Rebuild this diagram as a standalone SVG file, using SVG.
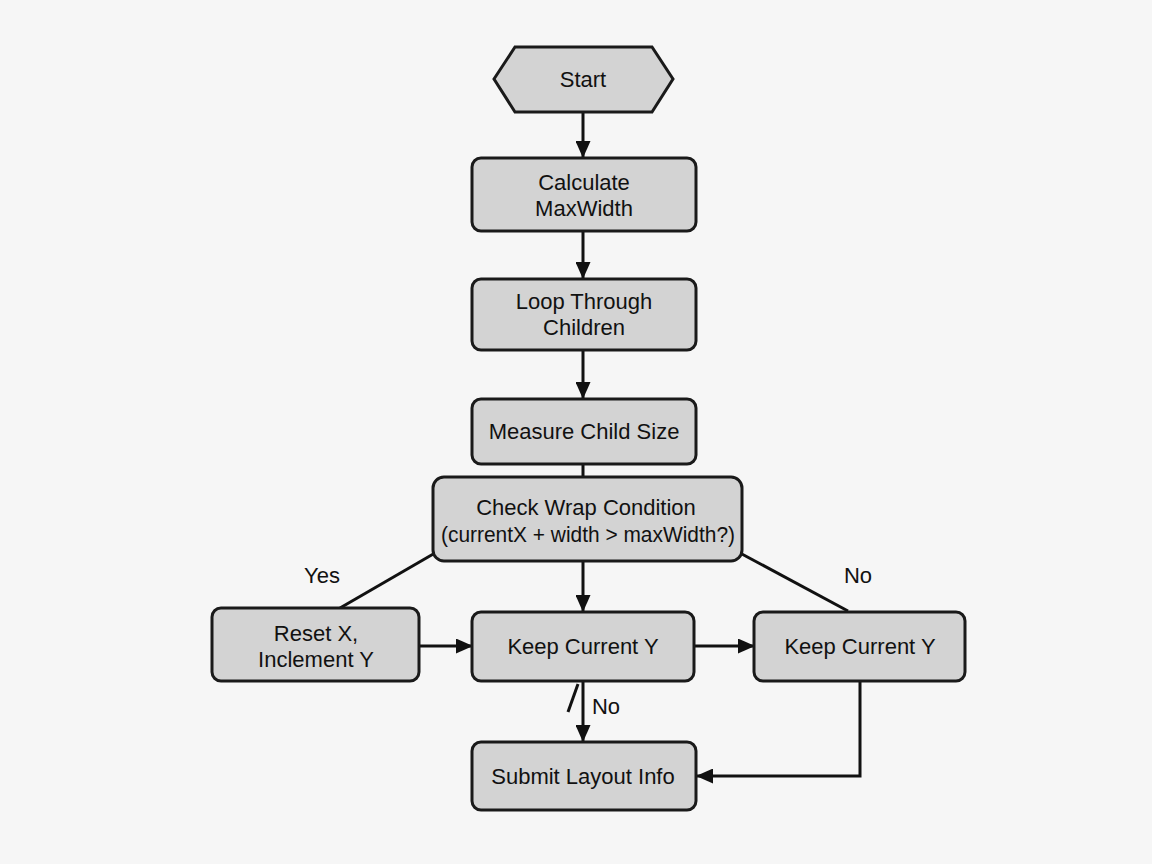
<svg xmlns="http://www.w3.org/2000/svg" width="1152" height="864" viewBox="0 0 1152 864">
<style>
.box{fill:#d3d3d3;stroke:#1a1a1a;stroke-width:3}
.t{font-family:"Liberation Sans",Arial,sans-serif;font-size:22px;fill:#111;text-anchor:middle;dominant-baseline:central}
.c{fill:none;stroke:#111;stroke-width:3}
</style>
<defs>
<marker id="ah" markerWidth="17" markerHeight="15" refX="16" refY="7.5" orient="auto" markerUnits="userSpaceOnUse">
<path d="M0,0 L17,7.5 L0,15 Z" fill="#111"/>
</marker>
</defs>
<rect width="1152" height="864" fill="#f6f6f6"/>
<g id="connectors">
<line class="c" x1="583" y1="112" x2="583" y2="157" marker-end="url(#ah)"/>
<line class="c" x1="583" y1="231" x2="583" y2="278" marker-end="url(#ah)"/>
<line class="c" x1="583" y1="350" x2="583" y2="398" marker-end="url(#ah)"/>
<line class="c" x1="583" y1="464" x2="583" y2="477"/>
<line class="c" x1="583" y1="561" x2="583" y2="611" marker-end="url(#ah)"/>
<line class="c" x1="435" y1="553" x2="340" y2="608"/>
<line class="c" x1="740" y1="553" x2="848" y2="611"/>
<line class="c" x1="419" y1="646" x2="472" y2="646" marker-end="url(#ah)"/>
<line class="c" x1="694" y1="646" x2="754" y2="646" marker-end="url(#ah)"/>
<line class="c" x1="583" y1="681" x2="583" y2="741" marker-end="url(#ah)"/>
<line class="c" x1="578" y1="684" x2="568" y2="712"/>
<polyline class="c" points="860,681 860,776 697,776" marker-end="url(#ah)"/>
<text class="t" x="322" y="575">Yes</text>
<text class="t" x="858" y="575">No</text>
<text class="t" x="606" y="706">No</text>
</g>
<g id="start">
<polygon class="box" points="494,79 515,47 652,47 673,79 652,112 515,112"/>
<text class="t" x="583" y="79">Start</text>
</g>
<g id="calc">
<rect class="box" x="472" y="158" width="224" height="73" rx="9"/>
<text class="t" x="584" y="182">Calculate</text>
<text class="t" x="584" y="208">MaxWidth</text>
</g>
<g id="loop">
<rect class="box" x="472" y="279" width="224" height="71" rx="9"/>
<text class="t" x="584" y="301">Loop Through</text>
<text class="t" x="584" y="327">Children</text>
</g>
<g id="measure">
<rect class="box" x="472" y="399" width="224" height="65" rx="9"/>
<text class="t" x="584" y="431">Measure Child Size</text>
</g>
<g id="check">
<rect class="box" x="433" y="477" width="309" height="84" rx="11"/>
<text class="t" x="586" y="507">Check Wrap Condition</text>
<text class="t" x="588" y="534" textLength="294" lengthAdjust="spacingAndGlyphs">(currentX + width &gt; maxWidth?)</text>
</g>
<g id="reset">
<rect class="box" x="212" y="608" width="207" height="73" rx="9"/>
<text class="t" x="316" y="633">Reset X,</text>
<text class="t" x="316" y="659">Inclement Y</text>
</g>
<g id="keep1">
<rect class="box" x="472" y="612" width="222" height="69" rx="9"/>
<text class="t" x="583" y="646">Keep Current Y</text>
</g>
<g id="keep2">
<rect class="box" x="754" y="612" width="211" height="69" rx="9"/>
<text class="t" x="860" y="646">Keep Current Y</text>
</g>
<g id="submit">
<rect class="box" x="472" y="742" width="224" height="68" rx="9"/>
<text class="t" x="583" y="776">Submit Layout Info</text>
</g>
</svg>
